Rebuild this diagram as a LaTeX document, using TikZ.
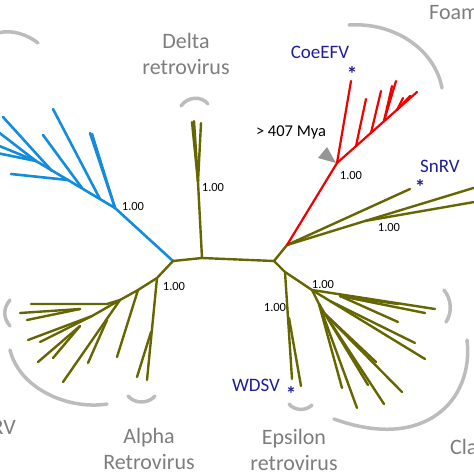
\documentclass[tikz,border=0pt]{standalone}
\usepackage{fontspec}
\setmainfont{Carlito}
\definecolor{oliveline}{RGB}{102,102,0}
\definecolor{blueline}{RGB}{20,140,220}
\definecolor{redline}{RGB}{240,0,0}
\definecolor{arcgrey}{RGB}{188,188,188}
\definecolor{labelgrey}{RGB}{125,125,125}
\definecolor{navytext}{RGB}{30,30,150}
\definecolor{tipgrey}{RGB}{150,150,150}

\begin{document}
\begin{tikzpicture}[x=1pt, y=-1pt, line cap=round, line join=round,
    oliv/.style={draw=oliveline, line width=2.4pt},
    blu/.style={draw=blueline, line width=2.6pt},
    rd/.style={draw=redline, line width=2.2pt},
    brk/.style={draw=arcgrey, line width=3.5pt},
    grp/.style={font=\fontsize{22}{26}\selectfont, text=labelgrey, align=center, inner sep=0pt},
    vir/.style={font=\fontsize{19}{21}\selectfont, text=navytext, inner sep=0pt},
    star/.style={font=\fontsize{21}{22}\selectfont\bfseries, text=navytext, inner sep=0pt},
    supp/.style={font=\fontsize{12.5}{14}\selectfont, inner sep=0pt}]
        \useasboundingbox (0,0) rectangle (474,474);

        % Backbone
        \coordinate (L) at (173,261);
        \coordinate (Dl) at (202,258);
        \coordinate (R) at (274,261);
        \draw[oliv] (L) -- (Dl) -- (R);

        % Delta retrovirus
        \coordinate (Dn) at (198,182);
        \coordinate (d1) at (192,122);
        \coordinate (d2) at (194,121);
        \coordinate (d3) at (201,123);
        \draw[oliv] (Dl) -- (Dn) -- (d1);
        \draw[oliv] (Dn) -- (d2);
        \draw[oliv] (Dn) -- (d3);
        \node[supp] (sDelta) at (213,187) {1.00};

        % Blue clade (upper left)
        \coordinate (A) at (115,208);
        \coordinate (B) at (100,199);
        \coordinate (C) at (82,188);
        \coordinate (D) at (68,180);
        \coordinate (E) at (52,171);
        \coordinate (E2) at (36,161);
        \coordinate (a1) at (90,133);
        \coordinate (a2) at (92,134);
        \coordinate (b1) at (53,109);
        \coordinate (c1) at (43,135);
        \coordinate (bd1) at (11,174);
        \coordinate (e1) at (3,117);
        \coordinate (e2) at (-3,131);
        \coordinate (e3) at (-3,145);
        \coordinate (e4) at (-3,153);
        \draw[blu] (L) -- (A) -- (E2);
        \draw[blu] (A) -- (a1);
        \draw[blu] (A) -- (a2);
        \draw[blu] (B) -- (b1);
        \draw[blu] (C) -- (c1);
        \draw[blu] (D) -- (bd1);
        \draw[blu] (E) -- (e1);
        \draw[blu] (E2) -- (e2);
        \draw[blu] (E2) -- (e3);
        \draw[blu] (E2) -- (e4);
        \node[supp] (sBlue) at (133,206) {1.00};

        % Alpha retrovirus and neighbours (lower left)
        \coordinate (F) at (157,278);
        \coordinate (Fs) at (151,332);
        \coordinate (G) at (138,290);
        \coordinate (H) at (120,300);
        \coordinate (Hs) at (107,320);
        \coordinate (K) at (107,304);
        \coordinate (K2) at (80,309);
        \coordinate (M) at (92,316);
        \coordinate (M2) at (80,326);
        \coordinate (f1) at (147,380);
        \coordinate (f2) at (137,377);
        \coordinate (g1) at (117,357);
        \coordinate (h1) at (63,382);
        \coordinate (h2) at (88,363);
        \coordinate (k1) at (31,304);
        \coordinate (k2) at (20,313);
        \coordinate (k3) at (27,320);
        \coordinate (m1) at (28,340);
        \coordinate (m2) at (40,342);
        \coordinate (m3) at (38,362);
        \coordinate (m4) at (53,358);
        \draw[oliv] (L) -- (F) -- (G) -- (H) -- (K) -- (k1);
        \draw[oliv] (F) -- (f1);
        \draw[oliv] (Fs) -- (f2);
        \draw[oliv] (G) -- (g1);
        \draw[oliv] (H) -- (h1);
        \draw[oliv] (Hs) -- (h2);
        \draw[oliv] (K2) -- (k2);
        \draw[oliv] (K2) -- (k3);
        \draw[oliv] (H) -- (M) -- (m1);
        \draw[oliv] (M) -- (m2);
        \draw[oliv] (M2) -- (m3);
        \draw[oliv] (M2) -- (m4);
        \node[supp] (sAlpha) at (174,286) {1.00};

        % SnRV and relatives (right)
        \coordinate (S) at (287,245);
        \coordinate (T) at (365,221);
        \coordinate (sn) at (410,189);
        \coordinate (t1) at (480,186);
        \coordinate (t2) at (480,201);
        \draw[oliv] (R) -- (S) -- (sn);
        \draw[oliv] (S) -- (T) -- (t1);
        \draw[oliv] (T) -- (t2);
        \node[supp] (sSn) at (389,227) {1.00};

        % Foamy viruses (red)
        \coordinate (U) at (337,163);
        \coordinate (V) at (356,146);
        \coordinate (W) at (371,133);
        \coordinate (X1) at (384,121);
        \coordinate (X2) at (397,110);
        \coordinate (coe) at (351,81);
        \coordinate (v1) at (366,99);
        \coordinate (w1) at (381,91);
        \coordinate (x1) at (392,86);
        \coordinate (x2) at (396,81);
        \coordinate (x3) at (403,98);
        \coordinate (x4) at (410,96);
        \coordinate (x5) at (417,92);
        \draw[rd] (S) -- (U) -- (x5);
        \draw[rd] (U) -- (coe);
        \draw[rd] (V) -- (v1);
        \draw[rd] (W) -- (w1);
        \draw[rd] (X1) -- (x1);
        \draw[rd] (X1) -- (x2);
        \draw[rd] (X2) -- (x3);
        \draw[rd] (X2) -- (x4);
        \node[supp] (sFoamy) at (351,175) {1.00};
        \fill[tipgrey] (318,158) -- (327,147) -- (336,163) -- cycle;
        \node[font=\fontsize{16.5}{18}\selectfont, inner sep=0pt] (mya) at (291,132) {> 407 Mya};

        % Epsilon retrovirus and lower right clade
        \coordinate (X) at (285,272);
        \coordinate (Xs) at (289,318);
        \coordinate (ep1) at (292,379);
        \coordinate (ep2) at (301,386);
        \draw[oliv] (R) -- (X) -- (ep1);
        \draw[oliv] (Xs) -- (ep2);
        \node[supp] (sEps) at (275,307) {1.00};

        \coordinate (Y) at (312,290);
        \coordinate (P) at (340,296);
        \coordinate (Q) at (330,301);
        \coordinate (Z) at (319,304);
        \coordinate (Z2) at (325,314);
        \coordinate (y1) at (435,309);
        \coordinate (p1) at (398,304);
        \coordinate (p2) at (425,313);
        \coordinate (p3) at (398,322);
        \coordinate (q1) at (415,343);
        \coordinate (q2) at (425,359);
        \coordinate (z1) at (342,388);
        \coordinate (z2) at (357,408);
        \coordinate (z3) at (402,392);
        \coordinate (z4) at (384,404);
        \coordinate (z5) at (376,362);
        \coordinate (z6) at (368,385);
        \draw[oliv] (X) -- (Y) -- (y1);
        \draw[oliv] (P) -- (p1);
        \draw[oliv] (P) -- (p2);
        \draw[oliv] (P) -- (p3);
        \draw[oliv] (Y) -- (Q) -- (q1);
        \draw[oliv] (Q) -- (q2);
        \draw[oliv] (Y) -- (Z) -- (z1);
        \draw[oliv] (Z) -- (z2);
        \draw[oliv] (Z) -- (Z2) -- (z3);
        \draw[oliv] (Z2) -- (z4);
        \draw[oliv] (Z2) -- (z5);
        \draw[oliv] (Z2) -- (z6);
        \node[supp] (sClass) at (323,284) {1.00};

        % Grey brackets
        \draw[brk] (-2,33) .. controls (12,29) and (28,35) .. (38,43);
        \draw[brk] (181,106) .. controls (188,96) and (202,96) .. (208,104);
        \draw[brk] (349,25) .. controls (395,22) and (435,50) .. (442,88);
        \draw[brk] (444,290) .. controls (452,300) and (452,313) .. (446,322);
        \draw[brk] (467,340) .. controls (474,400) and (425,452) .. (334,419);
        \draw[brk] (289,404) .. controls (295,411) and (306,411) .. (312,405);
        \draw[brk] (128,396) .. controls (135,404) and (148,404) .. (155,396);
        \draw[brk] (10,350) .. controls (20,390) and (70,410) .. (107,404);
        \draw[brk] (10,300) .. controls (3,308) and (3,318) .. (10,326);

        % Group names
        \node[grp] (delta) at (186,54) {Delta\\retrovirus};
        \node[grp] (alpha) at (149,449) {Alpha\\Retrovirus};
        \node[grp] (epsilon) at (294,450) {Epsilon\\retrovirus};
        \node[grp, anchor=west] (foam) at (429,13) {Foam};
        \node[grp, anchor=west] (cla) at (450,447) {Cla};
        \node[grp, anchor=east] (rv) at (16,427) {RV};

        % Marked viruses
        \node[vir] (coeefv) at (320,52) {CoeEFV};
        \node[vir] (snrv) at (440,166) {SnRV};
        \node[vir] (wdsv) at (256,385) {WDSV};
        \node[star] (astCoe) at (352,74) {*};
        \node[star] (astSn) at (420,187) {*};
        \node[star] (astWd) at (291,394) {*};
\end{tikzpicture}
\end{document}
